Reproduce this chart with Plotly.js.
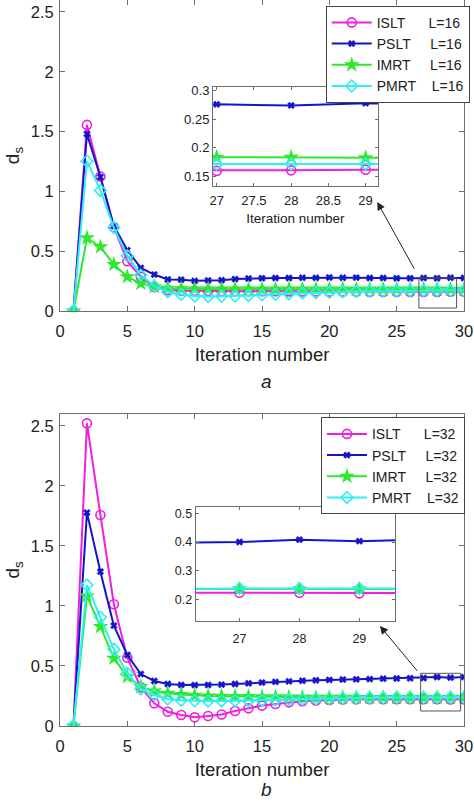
<!DOCTYPE html>
<html>
<head>
<meta charset="utf-8">
<script src="https://cdn.plot.ly/plotly-3.0.1.min.js"></script>
<style>html,body{margin:0;padding:0;background:#fff;}#chart{width:474px;height:802px;}</style>
</head>
<body>
<div id="chart"></div>
<script>
// ---- data ----
var iterations = [1,2,3,4,5,6,7,8,9,10,11,12,13,14,15,16,17,18,19,20,21,22,23,24,25,26,27,28,29,30];

// panel a : L = 16
var ISLT16 = [0, 1.556, 1.125, 0.70, 0.417, 0.286, 0.20, 0.175, 0.170, 0.168, 0.167, 0.166, 0.166, 0.165, 0.165, 0.165, 0.164, 0.163, 0.163, 0.162, 0.162, 0.161, 0.160, 0.160, 0.160, 0.159, 0.159, 0.160, 0.161, 0.161];
var PSLT16 = [0, 1.48, 1.12, 0.71, 0.508, 0.36, 0.305, 0.264, 0.262, 0.252, 0.256, 0.258, 0.267, 0.272, 0.274, 0.276, 0.276, 0.278, 0.277, 0.280, 0.278, 0.279, 0.276, 0.276, 0.274, 0.274, 0.276, 0.274, 0.278, 0.276];
var IMRT16 = [0, 0.611, 0.536, 0.389, 0.286, 0.231, 0.205, 0.190, 0.186, 0.184, 0.184, 0.183, 0.183, 0.184, 0.183, 0.183, 0.184, 0.183, 0.183, 0.183, 0.184, 0.183, 0.183, 0.183, 0.183, 0.183, 0.183, 0.183, 0.182, 0.182];
var PMRT16 = [0, 1.253, 1.008, 0.697, 0.461, 0.30, 0.208, 0.161, 0.139, 0.125, 0.122, 0.123, 0.126, 0.130, 0.135, 0.140, 0.145, 0.150, 0.153, 0.156, 0.160, 0.163, 0.165, 0.167, 0.168, 0.169, 0.171, 0.171, 0.171, 0.171];

// panel b : L = 32
var ISLT32 = [0, 2.522, 1.758, 1.014, 0.569, 0.322, 0.189, 0.119, 0.092, 0.072, 0.083, 0.096, 0.125, 0.147, 0.170, 0.183, 0.197, 0.206, 0.212, 0.217, 0.220, 0.222, 0.223, 0.223, 0.223, 0.223, 0.223, 0.223, 0.221, 0.222];
var PSLT32 = [0, 1.778, 1.286, 0.836, 0.592, 0.433, 0.375, 0.350, 0.342, 0.341, 0.342, 0.345, 0.350, 0.356, 0.362, 0.368, 0.372, 0.377, 0.381, 0.384, 0.387, 0.389, 0.391, 0.394, 0.396, 0.398, 0.400, 0.408, 0.403, 0.408];
var IMRT32 = [0, 1.083, 0.828, 0.564, 0.411, 0.328, 0.290, 0.272, 0.262, 0.255, 0.250, 0.248, 0.246, 0.244, 0.243, 0.242, 0.241, 0.240, 0.239, 0.238, 0.238, 0.237, 0.237, 0.237, 0.236, 0.236, 0.236, 0.236, 0.236, 0.236];
var PMRT32 = [0, 1.175, 0.906, 0.639, 0.439, 0.308, 0.258, 0.225, 0.215, 0.210, 0.209, 0.209, 0.210, 0.211, 0.213, 0.216, 0.220, 0.224, 0.227, 0.230, 0.232, 0.234, 0.235, 0.236, 0.237, 0.237, 0.238, 0.238, 0.238, 0.238];

var seriesNames = ['ISLT', 'PSLT', 'IMRT', 'PMRT'];
var legendLabels16 = ['ISLT\u00a0\u00a0\u00a0\u00a0\u00a0\u00a0L=16', 'PSLT\u00a0\u00a0\u00a0\u00a0\u00a0L=16', 'IMRT\u00a0\u00a0\u00a0\u00a0\u00a0L=16', 'PMRT\u00a0\u00a0\u00a0\u00a0L=16'];
var legendLabels32 = ['ISLT\u00a0\u00a0\u00a0\u00a0\u00a0\u00a0L=32', 'PSLT\u00a0\u00a0\u00a0\u00a0\u00a0L=32', 'IMRT\u00a0\u00a0\u00a0\u00a0\u00a0L=32', 'PMRT\u00a0\u00a0\u00a0\u00a0L=32'];
var mainTicks = [0, 5, 10, 15, 20, 25, 30];

// ---- styles ----
var colors = ['#f01fe0', '#1414c8', '#2ee82e', '#2ef0f0'];
var markers = [
  {symbol: 'circle-open', size: 9, line: {width: 1.6}},
  {symbol: 'x', size: 6, line: {width: 0.5}},
  {symbol: 'star', size: 12, line: {width: 0}},
  {symbol: 'diamond-open', size: 9, line: {width: 1.6}}
];
var FONT = 'Liberation Sans, Arial, Helvetica, sans-serif';
var AX = '#6e6e6e';

function makeTraces(data, labels, xa, ya, legendId, showLeg) {
  return data.map(function (d, i) {
    var m = JSON.parse(JSON.stringify(markers[i]));
    m.color = colors[i];
    m.line.color = colors[i];
    return {
      x: iterations, y: d, type: 'scatter', mode: 'lines+markers',
      name: labels[i], xaxis: xa, yaxis: ya, legend: legendId,
      showlegend: showLeg,
      line: {color: colors[i], width: 2},
      marker: m, hoverinfo: 'skip'
    };
  });
}

var dataA = [ISLT16, PSLT16, IMRT16, PMRT16];
var dataB = [ISLT32, PSLT32, IMRT32, PMRT32];
var traces = []
  .concat(makeTraces(dataA, legendLabels16, 'x', 'y', 'legend', true))
  .concat(makeTraces(dataB, legendLabels32, 'x2', 'y2', 'legend2', true))
  .concat(makeTraces(dataA, legendLabels16, 'x3', 'y3', 'legend', false))
  .concat(makeTraces(dataB, legendLabels32, 'x4', 'y4', 'legend2', false));

function mainX(anchor) {
  return {
    domain: [0, 1], anchor: anchor, range: [0, 30], tickvals: mainTicks,
    ticks: 'inside', ticklen: 5, tickcolor: AX, showline: true, linecolor: AX, linewidth: 1,
    mirror: 'ticks', zeroline: false, showgrid: false, ticklabelstandoff: 5,
    tickfont: {family: FONT, size: 16.5, color: '#222'},
    title: {text: 'Iteration number', font: {family: FONT, size: 18.5, color: '#222'}, standoff: 9}
  };
}
function mainY(anchor, dom) {
  return {
    domain: dom, anchor: anchor, range: [0, 2.6], dtick: 0.5, tick0: 0,
    ticks: 'inside', ticklen: 5, tickcolor: AX, showline: true, linecolor: AX, linewidth: 1,
    mirror: 'ticks', zeroline: false, showgrid: false, ticklabelstandoff: 2,
    tickfont: {family: FONT, size: 16.5, color: '#222'},
    title: {text: 'd<sub>s</sub>', font: {family: FONT, size: 19, color: '#222'}, standoff: 6}
  };
}

var layout = {
  width: 474, height: 802,
  margin: {l: 60, r: 10, t: 0, b: 76},
  paper_bgcolor: '#fff', plot_bgcolor: '#fff',
  font: {family: FONT, color: '#222'},
  xaxis: mainX('y'),
  yaxis: mainY('x', [0.5716, 1]),
  xaxis2: mainX('y2'),
  yaxis2: mainY('x2', [0, 0.4298]),
  xaxis3: {
    domain: [0.3787, 0.787], anchor: 'y3', range: [26.95, 29.166],
    tickvals: [27, 27.5, 28, 28.5, 29], ticktext: ['27', '27.5', '28', '28.5', '29'],
    ticks: 'inside', ticklen: 3, tickcolor: AX, showline: true, linecolor: AX, mirror: 'ticks',
    zeroline: false, showgrid: false, tickfont: {family: FONT, size: 13, color: '#222'},
    ticklabelstandoff: 2,
    title: {text: 'Iteration number', font: {family: FONT, size: 13.5, color: '#222'}, standoff: 6}
  },
  yaxis3: {
    domain: [0.7438, 0.8802], anchor: 'x3', range: [0.1325, 0.3065],
    tickvals: [0.15, 0.2, 0.25, 0.3], ticktext: ['0.15', '0.2', '0.25', '0.3'],
    ticks: 'inside', ticklen: 3, tickcolor: AX, showline: true, linecolor: AX, mirror: 'ticks',
    zeroline: false, showgrid: false, tickfont: {family: FONT, size: 13, color: '#222'}
  },
  xaxis4: {
    domain: [0.3359, 0.830], anchor: 'y4', range: [26.27, 29.6],
    tickvals: [27, 28, 29], ticktext: ['27', '28', '29'],
    ticks: 'inside', ticklen: 3, tickcolor: AX, showline: true, linecolor: AX, mirror: 'ticks',
    zeroline: false, showgrid: false, tickfont: {family: FONT, size: 12.5, color: '#222'},
    ticklabelstandoff: 6
  },
  yaxis4: {
    domain: [0.1446, 0.3012], anchor: 'x4', range: [0.1244, 0.521],
    tickvals: [0.2, 0.3, 0.4, 0.5], ticktext: ['0.2', '0.3', '0.4', '0.5'],
    ticks: 'inside', ticklen: 3, tickcolor: AX, showline: true, linecolor: AX, mirror: 'ticks',
    zeroline: false, showgrid: false, tickfont: {family: FONT, size: 12.5, color: '#222'}
  },
  legend: {
    x: 0.6577, y: 0.992, xanchor: 'left', yanchor: 'top', xref: 'paper', yref: 'paper',
    bgcolor: '#fff', bordercolor: '#444', borderwidth: 1, itemwidth: 40,
    font: {family: FONT, size: 14, color: '#222'}, tracegroupgap: 0
  },
  legend2: {
    x: 0.646, y: 0.4252, xanchor: 'left', yanchor: 'top', xref: 'paper', yref: 'paper',
    bgcolor: '#fff', bordercolor: '#444', borderwidth: 1, itemwidth: 40,
    font: {family: FONT, size: 14, color: '#222'}, tracegroupgap: 0
  },
  shapes: [
    {type: 'rect', xref: 'x', yref: 'y', x0: 26.65, x1: 29.45, y0: 0.025, y1: 0.275,
     line: {color: '#555', width: 1}, fillcolor: 'rgba(0,0,0,0)'},
    {type: 'rect', xref: 'x2', yref: 'y2', x0: 26.78, x1: 29.75, y0: 0.125, y1: 0.439,
     line: {color: '#555', width: 1}, fillcolor: 'rgba(0,0,0,0)'}
  ],
  annotations: [
    {xref: 'x', yref: 'y', x: 23.56, y: 0.911, axref: 'x', ayref: 'y', ax: 26.36, ay: 0.342,
     showarrow: true, arrowhead: 2, arrowsize: 1.6, arrowwidth: 1, arrowcolor: '#222', text: '', standoff: 0},
    {xref: 'x2', yref: 'y2', x: 23.76, y: 0.833, axref: 'x2', ayref: 'y2', ax: 26.62, ay: 0.447,
     showarrow: true, arrowhead: 2, arrowsize: 1.6, arrowwidth: 1, arrowcolor: '#222', text: '', standoff: 0},
    {xref: 'paper', yref: 'paper', x: 0.5116, y: 0.4743, xanchor: 'center', yanchor: 'middle',
     text: '<i>a</i>', showarrow: false, font: {family: FONT, size: 19, color: '#222'}},
    {xref: 'paper', yref: 'paper', x: 0.5116, y: -0.088, xanchor: 'center', yanchor: 'middle',
     text: '<i>b</i>', showarrow: false, font: {family: FONT, size: 19, color: '#222'}}
  ]
};

Plotly.newPlot('chart', traces, layout, {staticPlot: true, displayModeBar: false});
</script>
</body>
</html>
